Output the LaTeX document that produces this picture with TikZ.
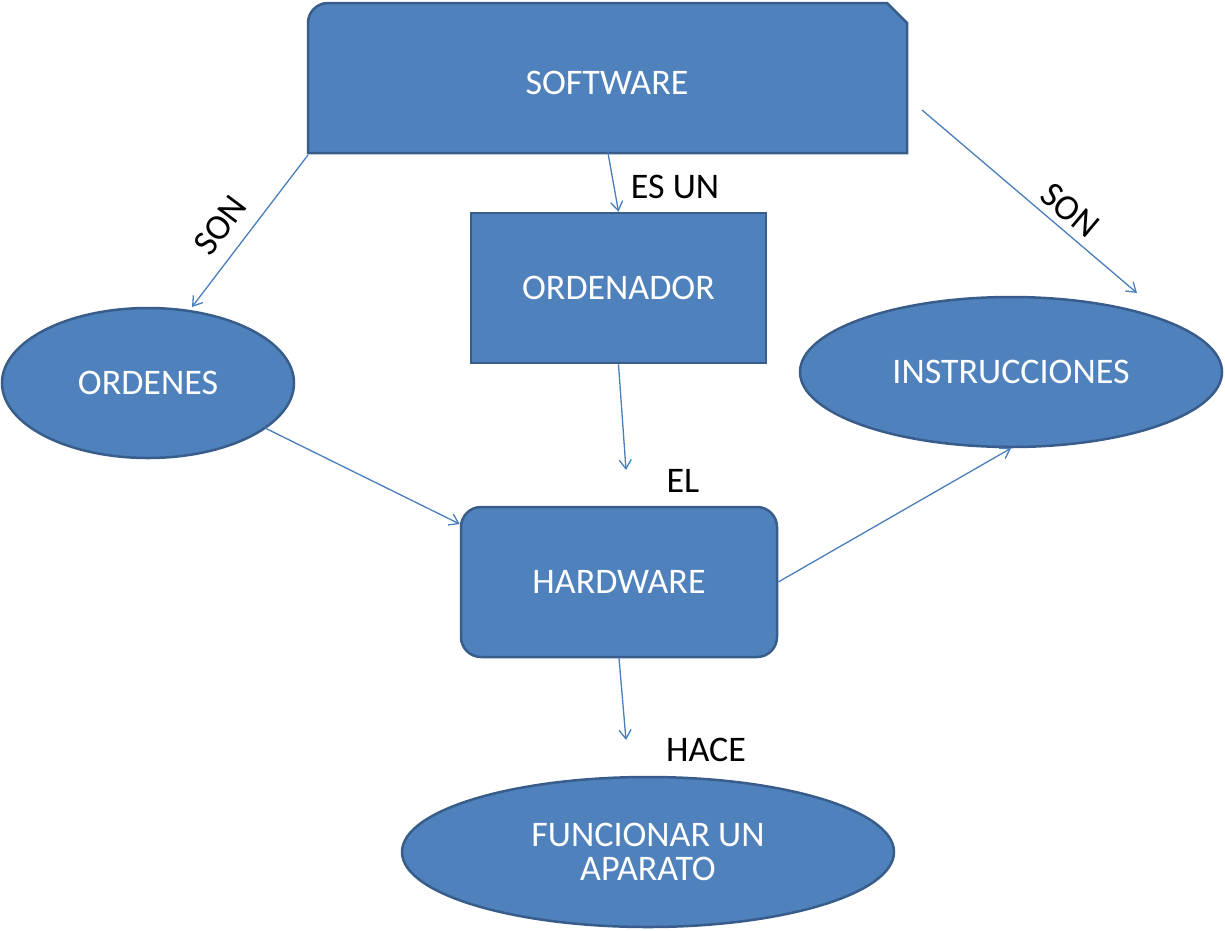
\documentclass[tikz,border=0pt]{standalone}
\usepackage{fontspec}
\setmainfont{Carlito}
\usetikzlibrary{shapes.geometric,arrows.meta}
\definecolor{fillb}{HTML}{4F81BD}
\definecolor{edgeb}{HTML}{385D8A}
\definecolor{arrb}{HTML}{4A7EBB}
\begin{document}
\begin{tikzpicture}[x=1pt,y=-1pt,
  box/.style={fill=fillb,draw=edgeb,line width=2.5pt,text=white,font=\fontsize{36}{36}\selectfont,align=center},
  ell/.style={box,ellipse,inner sep=0pt},
  conn/.style={draw=arrb,line width=1.3pt,-{Straight Barb[length=9pt,width=12pt]}},
  lab/.style={font=\fontsize{36}{40}\selectfont,text=black}]
\useasboundingbox (0,0) rectangle (1225,930);
\filldraw[fill=fillb,draw=edgeb,line width=2.5pt] (308,153) -- (308,23) arc[start angle=180,end angle=270,radius=20] -- (887,3) -- (907,23) -- (907,153) -- cycle;
\node[text=white,font=\fontsize{36}{36}\selectfont] (sw) at (607,83) {SOFTWARE};
\coordinate (swl) at (308,155);
\coordinate (swm) at (608,153);
\coordinate (swr) at (922,110);
\node[box,minimum width=295pt,minimum height=150pt] (ord) at (618.5,288) {ORDENADOR};
\node[box,rounded corners=20pt,minimum width=316pt,minimum height=150pt] (hw) at (619,582) {HARDWARE};
\node[ell,minimum width=292pt,minimum height=150pt] (oe) at (148,383) {ORDENES};
\node[ell,minimum width=422pt,minimum height=150pt] (ins) at (1011,372) {INSTRUCCIONES};
\node[ell,minimum width=492pt,minimum height=150pt] (fa) at (648,852) {FUNCIONAR UN\\[-2pt]APARATO};
\coordinate (s1) at (265,428);
\coordinate (e1) at (192,307);
\coordinate (e2) at (1137,293);
\coordinate (e3) at (626,470);
\coordinate (e4) at (626,740);
\draw[conn] (swl) -- (e1);
\draw[conn] (swm) -- (ord.north);
\draw[conn] (swr) -- (e2);
\draw[conn] (ord.south) -- (e3);
\draw[conn] (s1) -- (hw.160);
\draw[conn] (hw.east) -- (ins.south);
\draw[conn] (hw.south) -- (e4);
\node[lab,rotate=53] (l1) at (220,225) {SON};
\node[lab] (l2) at (675,187) {ES UN};
\node[lab,rotate=-40] (l3) at (1070,210) {SON};
\node[lab] (l4) at (683,481) {EL};
\node[lab] (l5) at (706,750) {HACE};
\end{tikzpicture}
\end{document}
